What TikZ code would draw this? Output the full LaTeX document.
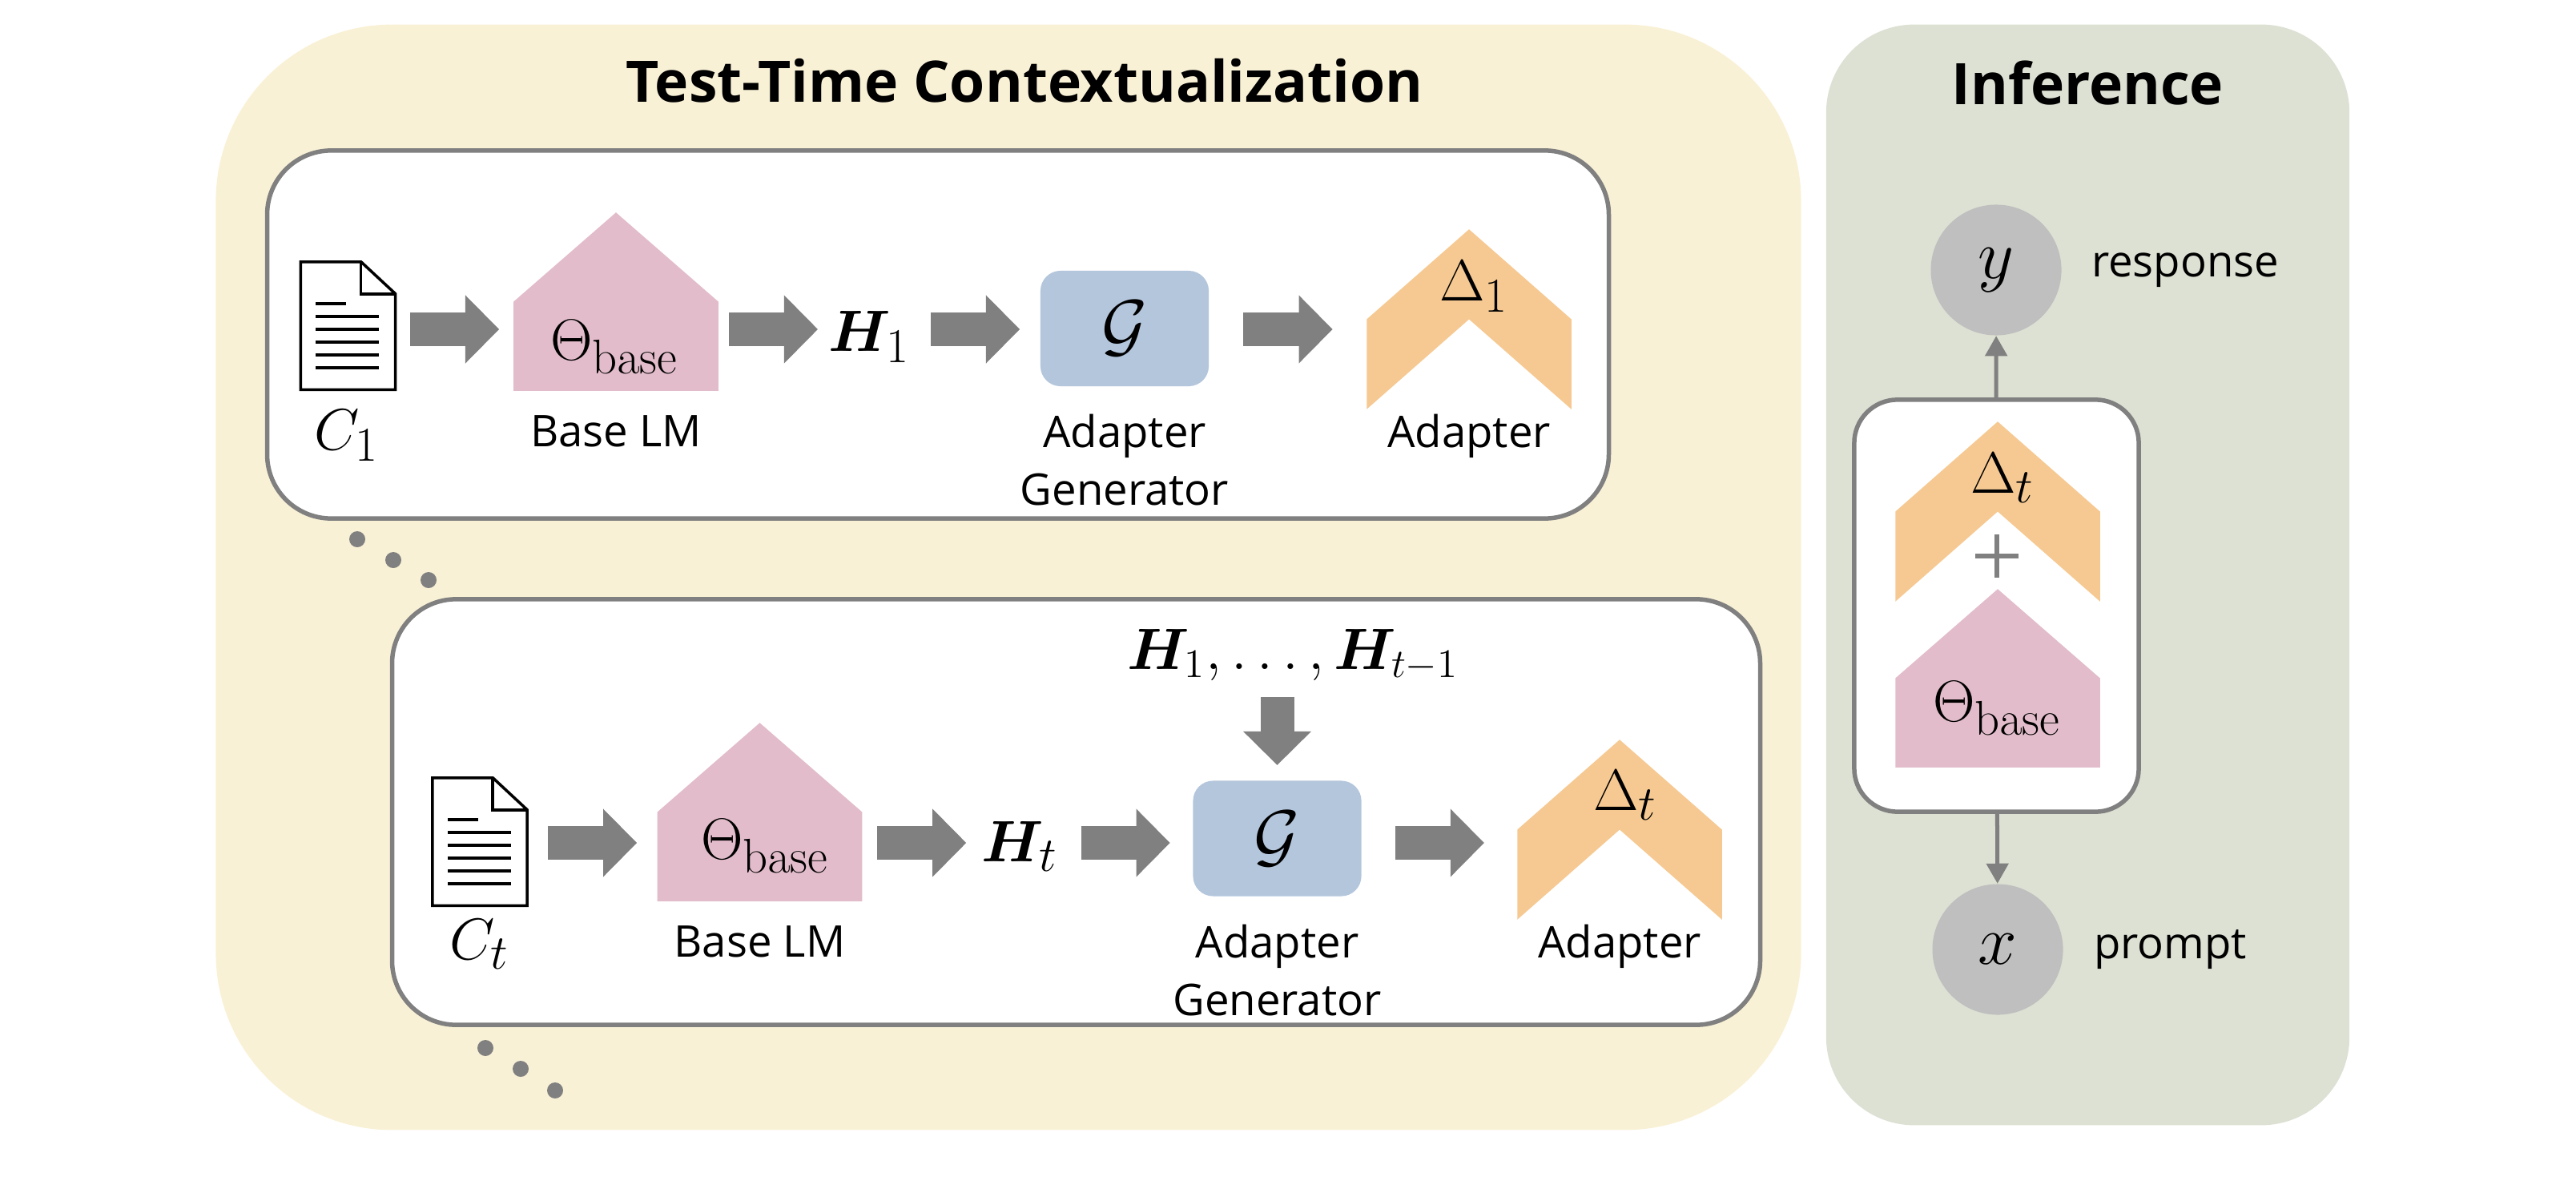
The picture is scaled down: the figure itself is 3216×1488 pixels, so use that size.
\documentclass[tikz,border=0pt]{standalone}
\usepackage[no-math]{fontspec}
\setmainfont{Open Sans}
\usepackage{bm}
\usetikzlibrary{arrows.meta, positioning, calc}
\DeclareMathSizes{21}{21}{16}{12}

\definecolor{ttcyellow}{HTML}{F9F1D6}
\definecolor{infgreen}{HTML}{DCE1D3}
\definecolor{framegray}{HTML}{808080}
\definecolor{lmpink}{HTML}{E2BCCA}
\definecolor{adorange}{HTML}{F6C992}
\definecolor{genblue}{HTML}{B4C6DC}
\definecolor{iogray}{HTML}{BFBFBF}

\tikzstyle{panel} = [rectangle, inner sep=0pt]
\tikzstyle{paneltitle} = [font=\fontsize{20.3pt}{24pt}\selectfont\bfseries, inner sep=0pt]
\tikzstyle{stage} = [rectangle, rounded corners=0.8cm, draw=framegray, line width=0.055cm, fill=white, inner sep=0pt]
\tikzstyle{doc} = [rectangle, minimum width=1.17cm, minimum height=1.58cm, inner sep=0pt]
\tikzstyle{docline} = [draw=black, line width=0.035cm]
\tikzstyle{shapebox} = [rectangle, minimum width=2.54cm, minimum height=2.21cm, inner sep=0pt]
\tikzstyle{adbox} = [rectangle, minimum width=2.54cm, minimum height=2.23cm, inner sep=0pt]
\tikzstyle{gen} = [rectangle, rounded corners=0.25cm, fill=genblue, minimum width=2.10cm, minimum height=1.44cm, inner sep=0pt, font=\fontsize{24pt}{28pt}\selectfont]
\tikzstyle{mathtxt} = [inner sep=0pt, font=\fontsize{21pt}{25pt}\selectfont]
\tikzstyle{desc} = [inner sep=0pt, align=center, font=\fontsize{15.5pt}{20.5pt}\selectfont]
\tikzstyle{io} = [circle, fill=iogray, minimum size=1.63cm, inner sep=0pt, font=\fontsize{23pt}{27pt}\selectfont]
\tikzstyle{flow} = [draw=framegray, line width=0.05cm, -{Triangle[length=0.25cm 0 0, width=0.27cm 0 0]}]
\tikzstyle{plus} = [draw=framegray, line width=0.06cm]
\tikzset{fat/.style={line width=0.42cm, draw=framegray, -{Triangle[length=0.42cm 0 0, width=0.85cm 0 0, line width=0pt]},
  to path={($(\tikztostart)!.5!(\tikztotarget)$) coordinate (fatmid) ($(fatmid)!#1!(\tikztostart)$) -- ($(fatmid)!#1!(\tikztotarget)$)}},
  fat/.default=0.555cm}

% page icon, base LM house and adapter chevron drawn on an empty node
\newcommand{\docicon}[1]{%
  \draw[docline] (#1.south west) -- (#1.north west) -- ([xshift=-0.43cm]#1.north east) -- ([yshift=-0.40cm]#1.north east) -- (#1.south east) -- cycle;
  \draw[docline] ([xshift=-0.43cm]#1.north east) -- ([xshift=-0.43cm,yshift=-0.40cm]#1.north east) -- ([yshift=-0.40cm]#1.north east);
  \draw[docline] ([xshift=0.19cm,yshift=-0.52cm]#1.north west) -- +(0.38cm,0);
  \draw[docline] ([xshift=0.19cm,yshift=-0.68cm]#1.north west) -- +(0.79cm,0);
  \draw[docline] ([xshift=0.19cm,yshift=-0.84cm]#1.north west) -- +(0.79cm,0);
  \draw[docline] ([xshift=0.19cm,yshift=-1.00cm]#1.north west) -- +(0.79cm,0);
  \draw[docline] ([xshift=0.19cm,yshift=-1.16cm]#1.north west) -- +(0.79cm,0);
  \draw[docline] ([xshift=0.19cm,yshift=-1.32cm]#1.north west) -- +(0.79cm,0);
}
\newcommand{\lmhouse}[1]{\fill[lmpink] (#1.south west) -- (#1.west) -- (#1.north) -- (#1.east) -- (#1.south east) -- cycle;}
\newcommand{\adchevron}[1]{\fill[adorange] (#1.south west) -- (#1.west) -- (#1.north) -- (#1.east) -- (#1.south east) -- (#1.center) -- cycle;}

\begin{document}
\begin{tikzpicture}[x=0.01cm, y=-0.01cm]
\useasboundingbox (0,0) rectangle (3216,1488);

% background panels
\node[panel, fill=ttcyellow, rounded corners=2.2cm, minimum width=19.78cm, minimum height=13.79cm] (ttc) at (1259,720.5) {};
\node[panel, fill=infgreen, rounded corners=1.1cm, minimum width=6.53cm, minimum height=13.73cm] (inf) at (2606.5,717.5) {};
\node[paneltitle, anchor=base] (ttctitle) at (1279,128) {Test-Time Contextualization};
\node[paneltitle, anchor=base] (inftitle) at (2606.5,131) {Inference};

% first context
\node[stage, minimum width=16.74cm, minimum height=4.59cm] (stage1) at (1171,417.5) {};
\coordinate (row1) at (0,411);
\node[doc] (doc1) at (434.5,406.5) {};
\docicon{doc1}
\node[mathtxt, anchor=base] (c1) at (433,561) {$C_1$};
\node[shapebox] (lm1) at (769,376.5) {};
\lmhouse{lm1}
\node[mathtxt, anchor=base] (theta1) at (767,449) {$\Theta_{\mathrm{base}}$};
\node[desc, below=0.30cm of lm1] (lmname1) {Base LM};
\node[mathtxt, anchor=base west] (h1) at (1034,438) {$\bm{H}_1$};
\node[gen] (g1) at (1404,410) {$\mathcal{G}$};
\node[desc, below=0.34cm of g1] (genname1) {Adapter\\Generator};
\node[adbox] (ad1) at (1834,398.5) {};
\adchevron{ad1}
\node[mathtxt, anchor=base] (delta1) at (1840,375) {$\Delta_1$};
\node[desc, below=0.06cm of ad1] (adname1) {Adapter};
\draw[fat] (doc1.east |- row1) to (lm1.west |- row1);
\draw[fat] (lm1.east |- row1) to (h1.west |- row1);
\draw[fat] (h1.east |- row1) to (g1.west |- row1);
\draw[fat] (g1.east |- row1) to (ad1.west |- row1);

\fill[framegray] (446,673) circle (0.1cm);
\fill[framegray] (491,699) circle (0.1cm);
\fill[framegray] (535,724) circle (0.1cm);

% t-th context
\node[stage, minimum width=17.07cm, minimum height=5.31cm] (stage2) at (1343.5,1013.5) {};
\coordinate (row2) at (0,1052);
\node[doc] (doc2) at (599,1050.5) {};
\docicon{doc2}
\node[mathtxt, anchor=base] (ct) at (599,1197) {$C_t$};
\node[shapebox] (lm2) at (948.5,1013.5) {};
\lmhouse{lm2}
\node[mathtxt, anchor=base] (theta2) at (955,1072) {$\Theta_{\mathrm{base}}$};
\node[desc, below=0.30cm of lm2] (lmname2) {Base LM};
\node[mathtxt, anchor=base west] (ht) at (1225,1075) {$\bm{H}_t$};
\node[mathtxt, anchor=base, font=\fontsize{20pt}{24pt}\selectfont] (hlist) at (1614,835) {$\bm{H}_1, \ldots, \bm{H}_{t-1}$};
\node[gen] (g2) at (1594.5,1046.5) {$\mathcal{G}$};
\node[desc, below=0.34cm of g2] (genname2) {Adapter\\Generator};
\node[adbox] (ad2) at (2022,1035.5) {};
\adchevron{ad2}
\node[mathtxt, anchor=base] (delta2) at (2029,1011) {$\Delta_t$};
\node[desc, below=0.06cm of ad2] (adname2) {Adapter};
\draw[fat] (doc2.east |- row2) to (lm2.west |- row2);
\draw[fat] (lm2.east |- row2) to (ht.west |- row2);
\draw[fat] (ht.east |- row2) to (g2.west |- row2);
\draw[fat] (g2.east |- row2) to (ad2.west |- row2);
\draw[fat=0.425cm] (g2.north |- hlist.south) to (g2.north);

\fill[framegray] (606,1308) circle (0.1cm);
\fill[framegray] (650,1334) circle (0.1cm);
\fill[framegray] (693,1361) circle (0.1cm);

% inference
\node[stage, rounded corners=0.54cm, minimum width=3.55cm, minimum height=5.14cm] (merged) at (2492.5,756) {};
\node[adbox] (ad3) at (2494,638.5) {};
\adchevron{ad3}
\node[mathtxt, anchor=base] (delta3) at (2500,615) {$\Delta_t$};
\draw[plus] (2493,667) -- (2493,721) (2466,694) -- (2520,694);
\node[shapebox] (lm3) at (2494,846.5) {};
\lmhouse{lm3}
\node[mathtxt, anchor=base] (theta3) at (2493,900) {$\Theta_{\mathrm{base}}$};
\node[io] (ynode) at (2492,337) {$y$};
\node[io] (xnode) at (2494,1185) {$x$};
\node[desc, right=0.36cm of ynode] (yname) {response};
\node[desc, right=0.37cm of xnode] (xname) {prompt};
\draw[flow] (merged) -- (ynode);
\draw[flow] (merged) -- (xnode);
\end{tikzpicture}
\end{document}
